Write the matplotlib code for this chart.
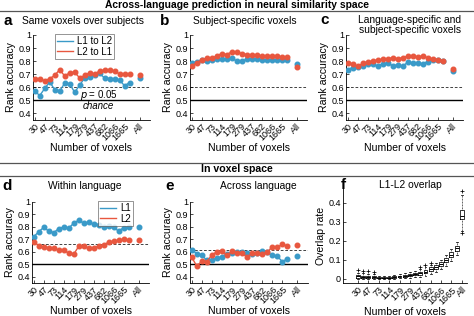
import numpy as np
import matplotlib
matplotlib.use("Agg")
import matplotlib.pyplot as plt

plt.rcParams['font.family'] = ['Liberation Sans', 'DejaVu Sans']

# ---------------- data ----------------
tick_labels = ['30', '47', '73', '114', '179', '279', '437', '682', '1066', '1665', 'All']

a_l1_to_l2 = [0.57, 0.535, 0.59, 0.64, 0.58, 0.57, 0.63, 0.625, 0.56, 0.615,
              0.67, 0.68, 0.695, 0.705, 0.67, 0.665, 0.66, 0.655, 0.61, 0.635]
a_l2_to_l1 = [0.665, 0.66, 0.65, 0.665, 0.69, 0.735, 0.685, 0.71, 0.715, 0.67,
              0.69, 0.71, 0.70, 0.725, 0.73, 0.73, 0.725, 0.70, 0.70, 0.70]
a_all = [0.67, 0.69]

b_l1_to_l2 = [0.785, 0.795, 0.805, 0.80, 0.805, 0.815, 0.818, 0.818, 0.825, 0.80,
              0.80, 0.813, 0.815, 0.815, 0.81, 0.81, 0.808, 0.808, 0.808, 0.81]
b_l2_to_l1 = [0.76, 0.788, 0.808, 0.825, 0.825, 0.838, 0.858, 0.85, 0.87, 0.87,
              0.858, 0.85, 0.845, 0.843, 0.838, 0.838, 0.838, 0.838, 0.833, 0.833]
b_all = [0.775, 0.755]

c_l1_to_l2 = [0.735, 0.75, 0.755, 0.765, 0.775, 0.775, 0.76, 0.78, 0.785, 0.765,
              0.77, 0.76, 0.79, 0.788, 0.783, 0.78, 0.795, 0.81, 0.805, 0.80]
c_l2_to_l1 = [0.785, 0.78, 0.76, 0.783, 0.795, 0.80, 0.808, 0.813, 0.818, 0.825,
              0.818, 0.825, 0.838, 0.838, 0.833, 0.838, 0.825, 0.818, 0.808, 0.803]
c_all = [0.72, 0.74]

d_l1 = [0.72, 0.76, 0.795, 0.765, 0.752, 0.785, 0.798, 0.788, 0.828, 0.852,
        0.828, 0.835, 0.82, 0.815, 0.80, 0.806, 0.795, 0.765, 0.792, 0.798]
d_l2 = [0.68, 0.648, 0.636, 0.632, 0.628, 0.612, 0.61, 0.59, 0.58, 0.642,
        0.642, 0.628, 0.632, 0.645, 0.652, 0.678, 0.682, 0.69, 0.698, 0.693]
d_all = [0.80, 0.693]

e_l1 = [0.617, 0.585, 0.575, 0.53, 0.535, 0.55, 0.56, 0.585, 0.59, 0.595,
        0.60, 0.59, 0.585, 0.59, 0.605, 0.595, 0.57, 0.565, 0.52, 0.545]
e_l2 = [0.555, 0.485, 0.525, 0.52, 0.575, 0.60, 0.605, 0.57, 0.605, 0.59,
        0.59, 0.555, 0.59, 0.59, 0.58, 0.595, 0.64, 0.635, 0.66, 0.645]
e_all = [0.565, 0.65]

chance = 0.5
thr_abc = 0.6
thr_d = 0.663
thr_e = 0.617

# overlap boxplot statistics (20 voxel counts + All)
f_med = [0.011, 0.008, 0.006, 0.006, 0.005, 0.005, 0.005, 0.007, 0.011, 0.014,
         0.018, 0.023, 0.028, 0.037, 0.050, 0.060, 0.077, 0.098, 0.125, 0.160, 0.330]
f_q1 = [0.004, 0.003, 0.002, 0.002, 0.002, 0.002, 0.002, 0.004, 0.007, 0.009,
        0.013, 0.017, 0.021, 0.029, 0.041, 0.051, 0.067, 0.087, 0.112, 0.146, 0.312]
f_q3 = [0.018, 0.014, 0.011, 0.011, 0.009, 0.009, 0.009, 0.011, 0.016, 0.020,
        0.024, 0.030, 0.036, 0.046, 0.059, 0.070, 0.088, 0.110, 0.138, 0.172, 0.362]
f_lo = [0.000, 0.000, 0.000, 0.000, 0.000, 0.000, 0.000, 0.000, 0.002, 0.003,
        0.005, 0.008, 0.010, 0.015, 0.025, 0.035, 0.050, 0.068, 0.090, 0.125, 0.250]
f_hi = [0.030, 0.027, 0.022, 0.022, 0.016, 0.016, 0.016, 0.020, 0.025, 0.030,
        0.035, 0.042, 0.050, 0.060, 0.070, 0.082, 0.100, 0.125, 0.155, 0.190, 0.440]
f_flier = [0.045, 0.040, 0.038, 0.035, np.nan, np.nan, np.nan, np.nan, np.nan, np.nan,
           np.nan, np.nan, 0.060, 0.070, 0.080, np.nan, np.nan, np.nan, np.nan, np.nan, 0.460]
f_flier_lo = [np.nan]*20 + [0.238]

# ---------------- style ----------------
BLUE = '#3a9ac8'
RED = '#e8573f'
FS_TICK = 6.5
FS_LAB = 7.6
FS_TITLE = 7.4
FS_LEG = 7.0

W, H = 474, 316
fig = plt.figure(figsize=(W/100, H/100), dpi=100)

def ax_at(x0, x1, ytop, ybot):
    return fig.add_axes([x0/W, 1-ybot/H, (x1-x0)/W, (ybot-ytop)/H])

def style(ax, ylabel):
    for s in ['top', 'right']:
        ax.spines[s].set_visible(False)
    for s in ['left', 'bottom']:
        ax.spines[s].set_linewidth(0.6)
    ax.tick_params(direction='in', length=2, width=0.5, labelsize=FS_TICK, pad=1.5)
    ax.set_ylabel(ylabel, fontsize=FS_LAB, labelpad=1.5)
    ax.set_xlabel('Number of voxels', fontsize=FS_LAB, labelpad=0.5)

def set_xticks(ax, all_pos):
    pos = list(range(1, 20, 2)) + [all_pos]
    ax.set_xticks(pos)
    ax.set_xticklabels(tick_labels, rotation=45, ha='right', rotation_mode='anchor')

def line_panel(ax, s1, s2, sall, thr, ylabel):
    x = np.arange(1, len(s1)+1)
    ax.axhline(chance, color='black', lw=1.0, zorder=1)
    ax.axhline(thr, color='#333333', lw=0.65, ls=(0, (3, 2)), zorder=1)
    l1, = ax.plot(x, s1, '-o', color=BLUE, ms=3.3, lw=1.0, zorder=3)
    l2, = ax.plot(x, s2, '-o', color=RED, ms=3.3, lw=1.0, zorder=3)
    ax.plot([22], [sall[0]], 'o', color=BLUE, ms=3.3, zorder=3)
    ax.plot([22], [sall[1]], 'o', color=RED, ms=3.3, zorder=3)
    ax.set_xlim(0.65, 24.1)
    ax.set_ylim(0.35, 1.0)
    ax.set_yticks([0.4, 0.5, 0.6, 0.7, 0.8, 0.9, 1])
    ax.set_yticklabels(['0.4', '0.5', '0.6', '0.7', '0.8', '0.9', '1'])
    set_xticks(ax, 22)
    style(ax, ylabel)
    return l1, l2

# ---------------- top row ----------------
axa = ax_at(33, 150, 35, 119.7)
l1, l2 = line_panel(axa, a_l1_to_l2, a_l2_to_l1, a_all, thr_abc, 'Rank accuracy')
leg = axa.legend([l1, l2], ['L1 to L2', 'L2 to L1'], loc='upper left', bbox_to_anchor=(0.17, 1.03),
                 fontsize=FS_LEG, frameon=True, fancybox=False, edgecolor='#444444',
                 handlelength=1.7, handletextpad=0.4, borderpad=0.2, labelspacing=0.05,
                 borderaxespad=0.2)
leg.get_frame().set_linewidth(0.5)
for ln in leg.get_lines():
    ln.set_marker('')
axa.text(13.8, 0.594, r'$\it{p}$ = 0.05', fontsize=FS_LEG, ha='center', va='top')
axa.text(13.8, 0.492, 'chance', fontsize=FS_LEG, ha='center', va='top', style='italic')

axb = ax_at(190, 307, 35, 119.7)
line_panel(axb, b_l1_to_l2, b_l2_to_l1, b_all, thr_abc, 'Rank accuracy')

axc = ax_at(346, 463, 35, 119.7)
line_panel(axc, c_l1_to_l2, c_l2_to_l1, c_all, thr_abc, 'Rank accuracy')

# ---------------- bottom row ----------------
axd = ax_at(32, 149, 201.7, 283)
l1, l2 = line_panel(axd, d_l1, d_l2, d_all, thr_d, 'Rank accuracy')
leg = axd.legend([l1, l2], ['L1', 'L2'], loc='upper right', bbox_to_anchor=(0.88, 1.03),
                 fontsize=FS_LEG, frameon=True, fancybox=False, edgecolor='#444444',
                 handlelength=1.7, handletextpad=0.4, borderpad=0.2, labelspacing=0.05,
                 borderaxespad=0.2)
leg.get_frame().set_linewidth(0.5)
for ln in leg.get_lines():
    ln.set_marker('')

axe = ax_at(190, 308, 201.7, 283)
line_panel(axe, e_l1, e_l2, e_all, thr_e, 'Rank accuracy')

axf = ax_at(343, 467, 188.3, 283.3)
stats = []
for i in range(21):
    fl = [v for v in (f_flier[i], f_flier_lo[i]) if not np.isnan(v)]
    stats.append(dict(med=f_med[i], q1=f_q1[i], q3=f_q3[i], whislo=f_lo[i],
                      whishi=f_hi[i], fliers=fl))
positions = list(range(1, 21)) + [21]
axf.bxp(stats, positions=positions, widths=0.75, showfliers=True,
        boxprops=dict(color='black', lw=0.55),
        medianprops=dict(color='black', lw=0.7),
        whiskerprops=dict(color='black', lw=0.55, ls=(0, (1, 1))),
        capprops=dict(color='black', lw=0.55),
        flierprops=dict(marker='+', markersize=2.8, markeredgecolor='black',
                        markeredgewidth=0.55))
axf.set_xlim(-1.9, 22)
axf.set_ylim(-0.025, 0.475)
axf.set_yticks([0, 0.1, 0.2, 0.3, 0.4])
axf.set_yticklabels(['0', '0.1', '0.2', '0.3', '0.4'])
set_xticks(axf, 21)
style(axf, 'Overlap rate')

# ---------------- titles and letters ----------------
def ftext(x, y, s, **kw):
    fig.text(x/W, 1-y/H, s, **kw)

ftext(237, 5, 'Across-language prediction in neural similarity space', fontsize=7.4,
      fontweight='bold', ha='center', va='center')
ftext(237, 169, 'In voxel space', fontsize=7.6, fontweight='bold', ha='center', va='center')
for yy in (10.5, 162.5, 176):
    fig.add_artist(plt.Line2D([0, 1], [1-yy/H, 1-yy/H], color='#555555', lw=0.9))

ftext(8, 21, 'a', fontsize=11, fontweight='bold', ha='center', va='center')
ftext(165, 21, 'b', fontsize=11, fontweight='bold', ha='center', va='center')
ftext(325, 20, 'c', fontsize=11, fontweight='bold', ha='center', va='center')
ftext(7, 186, 'd', fontsize=11, fontweight='bold', ha='center', va='center')
ftext(170, 186, 'e', fontsize=11, fontweight='bold', ha='center', va='center')
ftext(343, 185, 'f', fontsize=11, fontweight='bold', ha='center', va='center')

ftext(83, 21, 'Same voxels over subjects', fontsize=FS_TITLE, ha='center', va='center')
ftext(245, 21, 'Subject-specific voxels', fontsize=FS_TITLE, ha='center', va='center')
ftext(410, 25, 'Language-specific and\nsubject-specific voxels', fontsize=FS_TITLE,
      ha='center', va='center', linespacing=1.1)
ftext(85, 186, 'Within language', fontsize=FS_TITLE, ha='center', va='center')
ftext(258, 186, 'Across language', fontsize=FS_TITLE, ha='center', va='center')
ftext(410, 185, 'L1-L2 overlap', fontsize=FS_TITLE, ha='center', va='center')

fig.savefig('out.png', dpi=100)
